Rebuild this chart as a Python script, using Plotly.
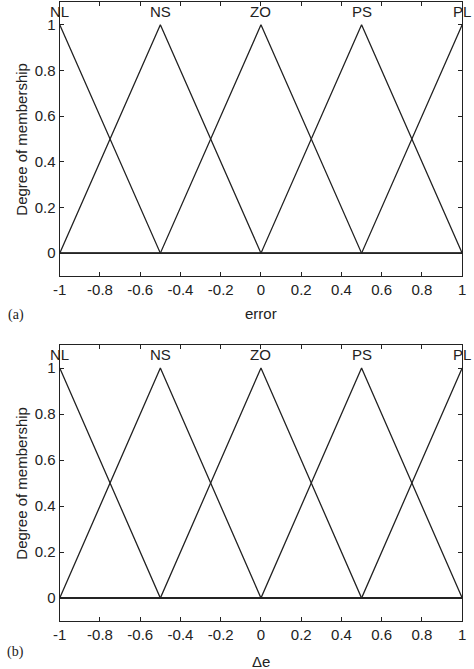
import plotly.graph_objects as go

# Membership function labels and breakpoints (same MFs for error and Δe)
mf_names = ["NL", "NS", "ZO", "PS", "PL"]
mf_centers = [-1.0, -0.5, 0.0, 0.5, 1.0]
mf_x = [
    [-1.0, -0.5, 1.0],
    [-1.0, -1.0, -0.5, 0.0, 1.0],
    [-1.0, -0.5, 0.0, 0.5, 1.0],
    [-1.0, 0.0, 0.5, 1.0, 1.0],
    [-1.0, 0.5, 1.0],
]
mf_y = [
    [1.0, 0.0, 0.0],
    [0.0, 0.0, 1.0, 0.0, 0.0],
    [0.0, 0.0, 1.0, 0.0, 0.0],
    [0.0, 0.0, 1.0, 0.0, 0.0],
    [0.0, 0.0, 1.0],
]
x_ticks = [-1, -0.8, -0.6, -0.4, -0.2, 0, 0.2, 0.4, 0.6, 0.8, 1]
x_ticktext = ["-1", "-0.8", "-0.6", "-0.4", "-0.2", "0", "0.2", "0.4", "0.6", "0.8", "1"]
y_ticks = [0, 0.2, 0.4, 0.6, 0.8, 1]
y_ticktext = ["0", "0.2", "0.4", "0.6", "0.8", "1"]
panel_xtitles = ["error", "Δe"]
panel_tags = ["(a)", "(b)"]

W, H = 474, 669
FONT = "Liberation Sans, Arial, sans-serif"
LINE = "#222222"
FS = 15

fig = go.Figure()
panels = [("x", "y"), ("x2", "y2")]
for (xa, ya) in panels:
    for xs, ys in zip(mf_x, mf_y):
        fig.add_trace(go.Scatter(x=xs, y=ys, mode="lines", xaxis=xa, yaxis=ya,
                                 line=dict(color=LINE, width=1.3),
                                 showlegend=False, hoverinfo="skip"))

xdom = [54 / W, 466 / W]
ydom_top = [1 - 276 / H, 1 - 2 / H]
ydom_bot = [1 - 621 / H, 1 - 345 / H]

common_x = dict(range=[-1, 1], domain=xdom, tickvals=x_ticks, ticktext=x_ticktext,
                ticks="inside", ticklen=4, tickcolor=LINE, showline=True, linecolor=LINE,
                linewidth=1.2, mirror="ticks", showgrid=False, zeroline=False,
                tickfont=dict(family=FONT, size=FS, color="#222"))
common_y = dict(range=[-0.1, 1.1], tickvals=y_ticks, ticktext=y_ticktext,
                ticks="inside", ticklen=4, tickcolor=LINE, showline=True, linecolor=LINE,
                linewidth=1.2, mirror="ticks", showgrid=False, zeroline=False,
                tickfont=dict(family=FONT, size=FS, color="#222"))

fig.update_layout(
    width=W, height=H, margin=dict(l=0, r=0, t=0, b=0),
    paper_bgcolor="white", plot_bgcolor="white",
    xaxis=dict(common_x, anchor="y"),
    yaxis=dict(common_y, domain=ydom_top, anchor="x"),
    xaxis2=dict(common_x, anchor="y2"),
    yaxis2=dict(common_y, domain=ydom_bot, anchor="x2"),
)

annotations = []
for i, (xa, ya) in enumerate(panels):
    for name, c in zip(mf_names, mf_centers):
        annotations.append(dict(x=c, y=1.0, xref=xa, yref=ya, text=name,
                                showarrow=False, yanchor="bottom", yshift=3,
                                font=dict(family=FONT, size=FS, color="#222")))
    dom = ydom_top if i == 0 else ydom_bot
    ymid = (dom[0] + dom[1]) / 2
    annotations.append(dict(x=14 / W, y=ymid, xref="paper", yref="paper",
                            xanchor="center", yanchor="middle",
                            text="Degree of membership", textangle=-90, showarrow=False,
                            font=dict(family=FONT, size=FS, color="#222")))
    title_y = 314 if i == 0 else 661
    annotations.append(dict(x=260 / W, y=1 - title_y / H, xref="paper", yref="paper",
                            xanchor="center", yanchor="middle",
                            text=panel_xtitles[i], showarrow=False,
                            font=dict(family=FONT, size=FS, color="#222")))
    tag_y = 315 if i == 0 else 652
    annotations.append(dict(x=9 / W, y=1 - tag_y / H, xref="paper", yref="paper",
                            xanchor="center", yanchor="middle",
                            text=panel_tags[i], showarrow=False,
                            font=dict(family="Liberation Serif, Times New Roman, serif",
                                      size=14, color="#222")))
fig.update_layout(annotations=annotations)

fig.write_html("out.html")
